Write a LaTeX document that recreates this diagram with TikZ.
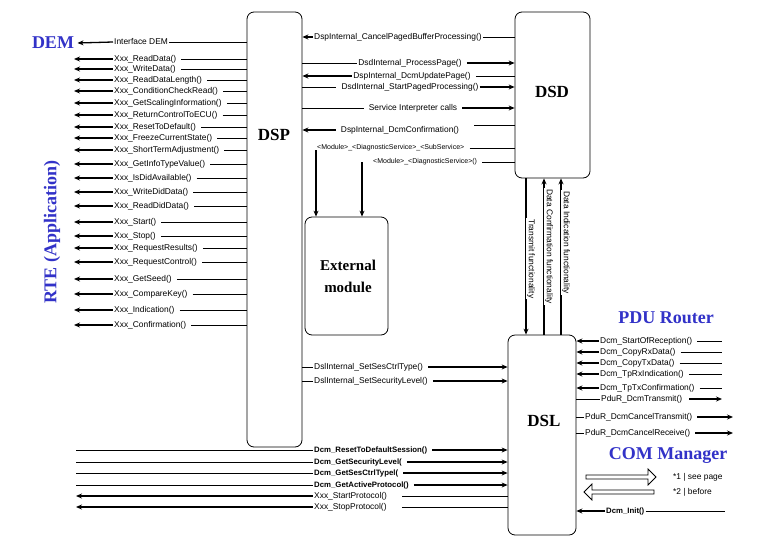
\documentclass[tikz,border=0pt]{standalone}
\usepackage{fontspec}
\setmainfont{Liberation Serif}
\setsansfont{Liberation Sans}
\usetikzlibrary{arrows.meta,shapes.arrows}
\definecolor{tblue}{RGB}{50,50,200}
\begin{document}
\begin{tikzpicture}[x=1pt,y=-1pt,
 box/.style={draw,rounded corners=7pt,line width=0.8pt,inner sep=0},
 big/.style={font=\bfseries\fontsize{17}{17}\selectfont},
 ttl/.style={font=\bfseries\fontsize{18}{18}\selectfont,text=tblue},
 lbl/.style={font=\sffamily\fontsize{8.4}{8.4}\selectfont,inner sep=1pt},
 arr/.style={line width=1.3pt,-{Stealth[length=6pt,width=5pt]}},
 ln/.style={line width=0.6pt}]
\useasboundingbox (0,0) rectangle (775,543);
\fill[white] (0,0) rectangle (775,543);
% boxes
\node[box,minimum width=55pt,minimum height=435pt] (dsp) at (274.5,229.5) {};
\node[big] at (274,135) {DSP};
\node[box,minimum width=83pt,minimum height=118pt] (ext) at (346.5,276) {};
\node[align=center,font=\bfseries\fontsize{15}{22}\selectfont] (extl) at (348,276) {External\\module};
\node[box,minimum width=75pt,minimum height=166pt] (dsd) at (552.5,95) {};
\node[big] at (552,92) {DSD};
\node[box,minimum width=68pt,minimum height=200pt] (dsl) at (542,435) {};
\node[big] at (544,421) {DSL};
% titles
\node[ttl] (dem) at (53,43) {DEM};
\node[ttl,rotate=90] (rte) at (52,232) {RTE (Application)};
\node[ttl] (pdu) at (666,318) {PDU Router};
\node[ttl] (com) at (668,456) {COM Manager};
% DEM interface
\node[lbl,anchor=west] (idem) at (113,42) {Interface DEM};
\draw[arr] (idem.west) -- (dem.east);
\draw[ln] (idem.east) -- (idem.east -| dsp.west);
% RTE arrows
\foreach \y/\t [count=\i] in {59/Xxx\_ReadData(),69/Xxx\_WriteData(),80/Xxx\_ReadDataLength(),91/Xxx\_ConditionCheckRead(),103/Xxx\_GetScalingInformation(),115/Xxx\_ReturnControlToECU(),127/Xxx\_ResetToDefault(),138/Xxx\_FreezeCurrentState(),150/Xxx\_ShortTermAdjustment(),164/Xxx\_GetInfoTypeValue(),178/Xxx\_IsDidAvailable(),192/Xxx\_WriteDidData(),206/Xxx\_ReadDidData(),222/Xxx\_Start(),236/Xxx\_Stop(),248/Xxx\_RequestResults(),262/Xxx\_RequestControl(),279/Xxx\_GetSeed(),294/Xxx\_CompareKey(),310/Xxx\_Indication(),325/Xxx\_Confirmation()}{
 \node[lbl,anchor=west] (r\i) at (113,\y) {\t};
 \coordinate (rl\i) at (74,\y);
 \draw[arr] (r\i.west) -- (rl\i);
 \draw[ln] ([xshift=4pt]r\i.east) -- (r\i.east -| dsp.west);
}
% DSD <-> DSP
\node[lbl,anchor=west] (c1) at (313,37) {DspInternal\_CancelPagedBufferProcessing()};
\draw[arr] (c1.west) -- (c1.west -| dsp.east);
\draw[ln] (c1.east) -- (c1.east -| dsd.west);
\node[lbl] (c2) at (410,63) {DsdInternal\_ProcessPage()};
\draw[ln] (c2.west -| dsp.east) -- (c2.west);
\draw[arr] ([xshift=4pt]c2.east) -- (c2.east -| dsd.west);
\node[lbl] (c3) at (412,76) {DspInternal\_DcmUpdatePage()};
\draw[arr] (c3.west) -- (c3.west -| dsp.east);
\draw[ln] ([xshift=4pt]c3.east) -- (c3.east -| dsd.west);
\node[lbl] (c4) at (410,87) {DsdInternal\_StartPagedProcessing()};
\draw[ln] (c4.west -| dsp.east) -- ([xshift=-4pt]c4.west);
\draw[arr] (c4.east) -- (c4.east -| dsd.west);
\node[lbl] (c5) at (413,108) {Service Interpreter calls};
\draw[ln] (c5.west -| dsp.east) -- ([xshift=-4pt]c5.west);
\draw[arr] ([xshift=4pt]c5.east) -- (c5.east -| dsd.west);
\node[lbl] (c6) at (400,130) {DspInternal\_DcmConfirmation()};
\draw[arr] ([xshift=-4pt]c6.west) -- (c6.west -| dsp.east);
\draw[ln] ([xshift=14pt,yshift=5pt]c6.east) -- ([yshift=5pt]c6.east -| dsd.west);
\node[lbl,anchor=west,font=\sffamily\fontsize{7}{7}\selectfont] (c7) at (316,148) {<Module>\_<DiagnosticService>\_<SubService>};
\draw[ln] ([xshift=4pt]c7.east) -- (c7.east -| dsd.west);
\node[lbl,anchor=west,font=\sffamily\fontsize{7}{7}\selectfont] (c8) at (372,162) {<Module>\_<DiagnosticService>()};
\draw[ln] ([xshift=4pt]c8.east) -- (c8.east -| dsd.west);
\coordinate (m1) at (316,150);
\coordinate (m2) at (362,162);
\draw[arr] (m1) -- (m1 |- ext.north);
\draw[arr] (m2) -- (m2 |- ext.north);
% DSD <-> DSL
\coordinate (v1) at (526,0); \coordinate (v2) at (544,0); \coordinate (v3) at (561,0);
\draw[arr] (v1 |- dsd.south) -- (v1 |- dsl.north);
\draw[arr] (v2 |- dsl.north) -- (v2 |- dsd.south);
\draw[arr] (v3 |- dsl.north) -- (v3 |- dsd.south);
\node[lbl,rotate=-90,anchor=south west,fill=white] (tf) at (526,218) {Transmit functionality};
\node[lbl,rotate=-90,anchor=south west,fill=white] (dc) at (544,188) {Data Confirmation functionality};
\node[lbl,rotate=-90,anchor=south west,fill=white] (di) at (561,190) {Data Indication functionality};
% DSP -> DSL
\node[lbl,anchor=west] (s1) at (313,367) {DslInternal\_SetSesCtrlType()};
\draw[ln] (s1.west -| dsp.east) -- (s1.west);
\draw[arr] ([xshift=4pt]s1.east) -- (s1.east -| dsl.west);
\node[lbl,anchor=west] (s2) at (313,381) {DslInternal\_SetSecurityLevel()};
\draw[ln] (s2.west -| dsp.east) -- (s2.west);
\draw[arr] ([xshift=4pt]s2.east) -- (s2.east -| dsl.west);
% bottom
\foreach \y/\t [count=\i] in {450/Dcm\_ResetToDefaultSession(),462/Dcm\_GetSecurityLevel(,473/Dcm\_GetSesCtrlTypel(,485/Dcm\_GetActiveProtocol()}{
 \node[lbl,anchor=west,font=\sffamily\bfseries\fontsize{7.8}{8}\selectfont] (b\i) at (313,\y) {\t};
 \coordinate (bl\i) at (76,\y);
 \draw[ln] (bl\i) -- (b\i.west);
 \draw[arr] ([xshift=4pt]b\i.east) -- (b\i.east -| dsl.west);
}
\foreach \y/\t [count=\i] in {496/Xxx\_StartProtocol(),507/Xxx\_StopProtocol()}{
 \node[lbl,anchor=west] (p\i) at (313,\y) {\t};
 \coordinate (pl\i) at (76,\y);
 \draw[arr] (p\i.west) -- (pl\i);
 \draw[ln] ([xshift=14pt]p\i.east) -- (p\i.east -| dsl.west);
}
% PDU router
\foreach \y/\t [count=\i] in {341/Dcm\_StartOfReception(),352/Dcm\_CopyRxData(),363/Dcm\_CopyTxData(),374/Dcm\_TpRxIndication(),388/Dcm\_TpTxConfirmation()}{
 \node[lbl,anchor=west] (u\i) at (599,\y) {\t};
 \coordinate (ur\i) at (722,\y);
 \draw[arr] (u\i.west) -- (u\i.west -| dsl.east);
 \draw[ln] ([xshift=4pt]u\i.east) -- (ur\i);
}
\node[lbl,anchor=west] (t1) at (600,399) {PduR\_DcmTransmit()};
\coordinate (tr1) at (722,399);
\draw[ln] (t1.west -| dsl.east) -- (t1.west);
\draw[arr] ([xshift=6pt]t1.east) -- (tr1);
\node[lbl,anchor=west] (t2) at (584,417) {PduR\_DcmCancelTransmit()};
\coordinate (tr2) at (733,417);
\draw[ln] (t2.west -| dsl.east) -- (t2.west);
\draw[arr] ([xshift=4pt]t2.east) -- (tr2);
\node[lbl,anchor=west] (t3) at (584,433) {PduR\_DcmCancelReceive()};
\coordinate (tr3) at (733,433);
\draw[ln] (t3.west -| dsl.east) -- (t3.west);
\draw[arr] ([xshift=4pt]t3.east) -- (tr3);
% legend
\node[draw,single arrow,minimum height=70pt,minimum width=16pt,single arrow head extend=4pt,inner sep=1pt,line width=0.8pt] (h1) at (620,477) {};
\node[draw,single arrow,shape border rotate=180,minimum height=70pt,minimum width=16pt,single arrow head extend=4pt,inner sep=1pt,line width=0.8pt] (h2) at (620,492) {};
\node[lbl,anchor=west] (k1) at (672,477) {*1 | see page};
\node[lbl,anchor=west] (k2) at (672,492) {*2 | before};
\node[lbl,anchor=west,font=\sffamily\bfseries\fontsize{7.8}{8}\selectfont] (ini) at (605,511) {Dcm\_Init()};
\coordinate (inr) at (725,511);
\draw[arr] (ini.west) -- (ini.west -| dsl.east);
\draw[ln] (ini.east) -- (inr);
\end{tikzpicture}
\end{document}
